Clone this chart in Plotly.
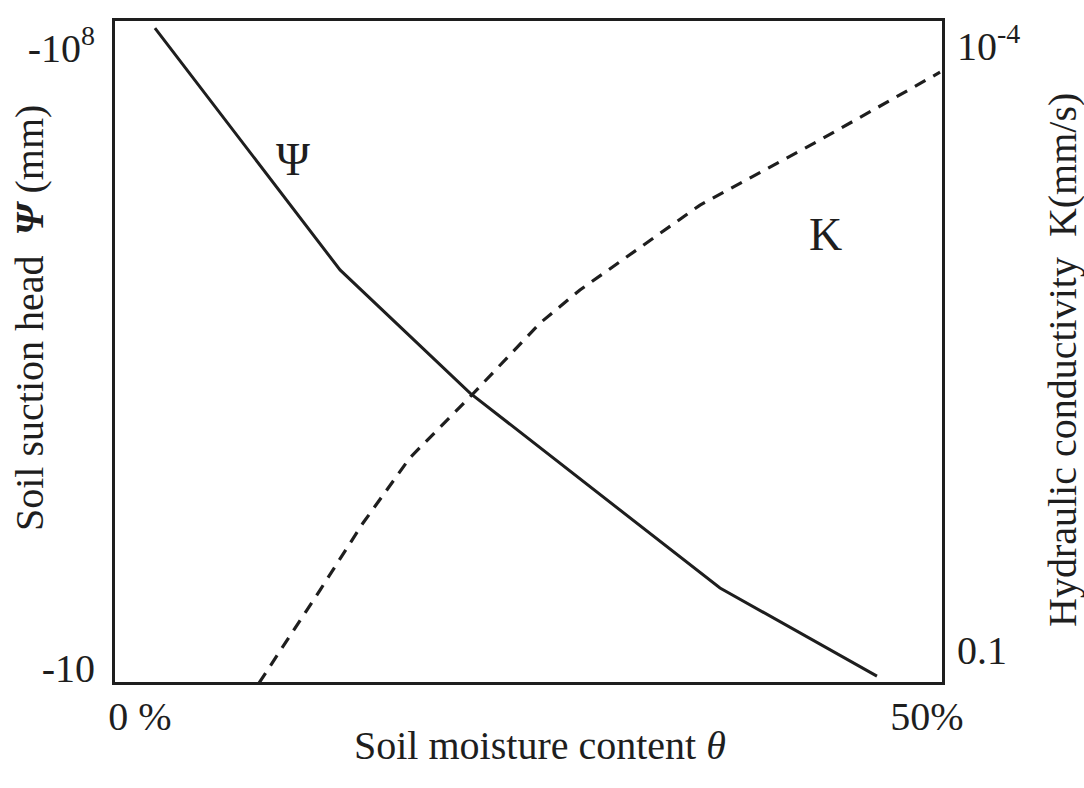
import plotly.graph_objects as go

# Soil suction head (magnitude, mm) vs moisture content (%)
psi_theta = [0.95, 12.71, 20.97, 36.85, 46.82]
psi_abs = [1.68e8, 3.12e5, 1.27e4, 80.0, 8.1]

# Hydraulic conductivity (mm/s) vs moisture content (%)
k_theta = [7.56, 11.44, 14.17, 17.15, 20.97, 25.41, 27.95, 35.58, 43.20, 50.83]
k_vals = [0.146, 0.0504, 0.0234, 0.0111, 0.00553, 0.00238, 0.00163, 6.17e-4, 2.93e-4, 1.35e-4]

x_tickvals = [0, 50]
x_ticktext = ["0 %", "50%"]
y_tickvals = [10, 1e8]
y_ticktext = ["-10", "-10<sup>8</sup>"]
y2_tickvals = [0.1, 1e-4]
y2_ticktext = ["0.1", "10<sup>-4</sup>"]

FONT = "Liberation Serif"
INK = "#1e1e1e"

fig = go.Figure()
fig.add_trace(go.Scatter(x=psi_theta, y=psi_abs, mode="lines",
                         line=dict(color=INK, width=3), yaxis="y",
                         showlegend=False, hoverinfo="skip"))
fig.add_trace(go.Scatter(x=k_theta, y=k_vals, mode="lines",
                         line=dict(color=INK, width=3.2, dash="12px,9px"), yaxis="y2",
                         showlegend=False, hoverinfo="skip", cliponaxis=True))

fig.update_layout(
    width=1084, height=788,
    margin=dict(l=115, r=142, t=21, b=106),
    paper_bgcolor="white", plot_bgcolor="white",
    font=dict(family=FONT, size=40, color=INK),
    xaxis=dict(range=[-1.588, 50.953], tickvals=x_tickvals, ticktext=x_ticktext,
               showgrid=False, zeroline=False, showline=True, mirror=True,
               linewidth=3, linecolor=INK, ticks="", ticklabelstandoff=-3,
               tickfont=dict(size=40)),
    yaxis=dict(type="log", range=[0.842, 8.305], tickvals=y_tickvals, ticktext=y_ticktext,
               showgrid=False, zeroline=False, showline=True, mirror=True,
               linewidth=3, linecolor=INK, ticks="", ticklabelstandoff=9,
               tickfont=dict(size=40)),
    yaxis2=dict(type="log", range=[-0.841, -4.124], tickvals=y2_tickvals, ticktext=y2_ticktext,
                overlaying="y", side="right", showgrid=False, zeroline=False,
                showline=False, ticks="", ticklabelstandoff=14,
                tickfont=dict(size=40)),
    annotations=[
        dict(text="Soil moisture content <i>θ</i>", xref="paper", yref="paper",
             x=(540 - 115) / 827, y=(682 - 745) / 661, showarrow=False,
             font=dict(size=40), xanchor="center", yanchor="middle"),
        dict(text="Soil suction head  <i><b>Ψ</b></i> (mm)", xref="paper", yref="paper",
             x=(30 - 115) / 827, y=(682 - 318) / 661, showarrow=False, textangle=-90,
             font=dict(size=40), xanchor="center", yanchor="middle"),
        dict(text="Hydraulic conductivity  K(mm/s)", xref="paper", yref="paper",
             x=(1062 - 115) / 827, y=(682 - 360) / 661, showarrow=False, textangle=-90,
             font=dict(size=40), xanchor="center", yanchor="middle"),
        dict(text="Ψ", xref="x", yref="y", x=9.72, y=6.736, showarrow=False,
             font=dict(size=46), xanchor="center", yanchor="middle"),
        dict(text="K", xref="x", yref="y", x=43.52, y=5.889, showarrow=False,
             font=dict(size=46), xanchor="center", yanchor="middle"),
    ],
)

fig.write_html("out.html")
